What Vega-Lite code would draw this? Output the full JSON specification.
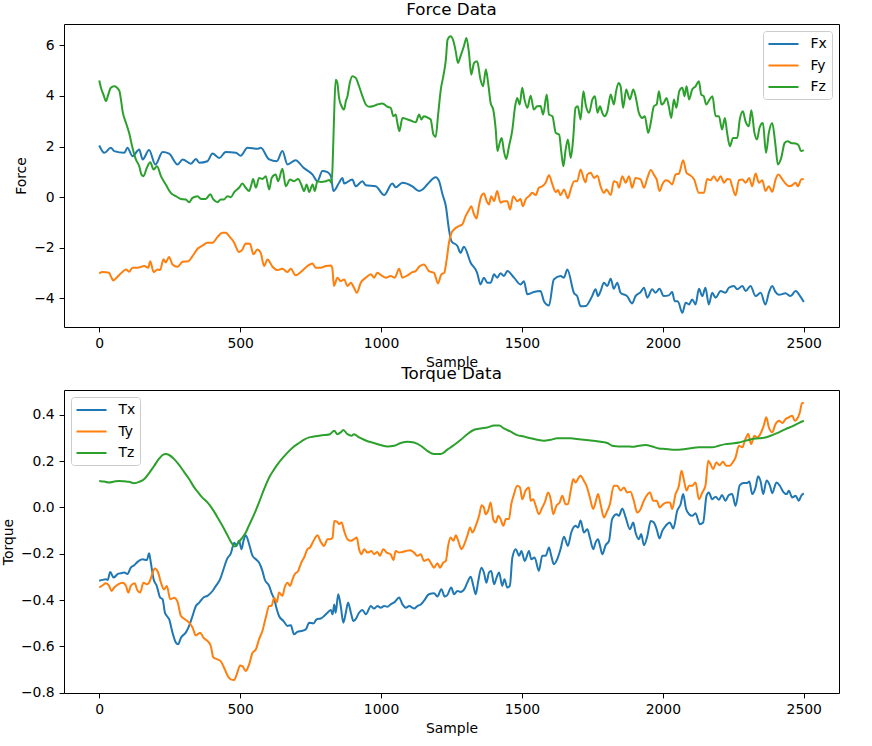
{
  "$schema": "https://vega.github.io/schema/vega-lite/v6.json",
  "padding": {"left": 0, "top": 1, "right": 20, "bottom": 5},
  "spacing": -5,
  "config": {
    "font": "DejaVu Sans",
    "view": {"stroke": "black", "strokeWidth": 1},
    "axis": {
      "domain": false, "grid": false,
      "tickColor": "black", "tickSize": 4.9, "labelPadding": 4.9,
      "labelFontSize": 13.9, "labelColor": "black",
      "titleFontSize": 13.9, "titleFontWeight": "normal", "titleColor": "black"
    },
    "title": {"fontSize": 16.7, "fontWeight": "normal", "color": "black", "anchor": "middle", "baseline": "alphabetic"},
    "legend": {
      "symbolType": "M-1,0H3", "symbolSize": 225, "symbolStrokeWidth": 2,
      "labelFontSize": 13.9, "labelColor": "black", "labelOffset": 26,
      "padding": 4.5, "rowPadding": 5.5,
      "fillColor": "rgba(255,255,255,0.8)", "strokeColor": "#cccccc", "cornerRadius": 3
    }
  },
  "datasets": {
    "force": [
      {"channel":"Fx","sample":0,"value":2.04},{"channel":"Fx","sample":18,"value":1.75},{"channel":"Fx","sample":41,"value":1.95},{"channel":"Fx","sample":53,"value":1.82},{"channel":"Fx","sample":89,"value":1.75},{"channel":"Fx","sample":100,"value":1.95},{"channel":"Fx","sample":118,"value":1.62},{"channel":"Fx","sample":142,"value":1.88},{"channel":"Fx","sample":154,"value":1.49},{"channel":"Fx","sample":177,"value":1.86},{"channel":"Fx","sample":199,"value":1.29},{"channel":"Fx","sample":225,"value":1.78},{"channel":"Fx","sample":248,"value":1.72},{"channel":"Fx","sample":278,"value":1.29},{"channel":"Fx","sample":296,"value":1.49},{"channel":"Fx","sample":325,"value":1.32},{"channel":"Fx","sample":343,"value":1.51},{"channel":"Fx","sample":355,"value":1.36},{"channel":"Fx","sample":384,"value":1.42},{"channel":"Fx","sample":402,"value":1.72},{"channel":"Fx","sample":426,"value":1.55},{"channel":"Fx","sample":449,"value":1.78},{"channel":"Fx","sample":485,"value":1.75},{"channel":"Fx","sample":502,"value":1.64},{"channel":"Fx","sample":526,"value":1.95},{"channel":"Fx","sample":561,"value":1.91},{"channel":"Fx","sample":573,"value":1.95},{"channel":"Fx","sample":603,"value":1.49},{"channel":"Fx","sample":630,"value":1.42},{"channel":"Fx","sample":650,"value":1.82},{"channel":"Fx","sample":668,"value":1.29},{"channel":"Fx","sample":697,"value":1.46},{"channel":"Fx","sample":725,"value":1.16},{"channel":"Fx","sample":757,"value":0.89},{"channel":"Fx","sample":774,"value":0.63},{"channel":"Fx","sample":792,"value":1.03},{"channel":"Fx","sample":810,"value":0.99},{"channel":"Fx","sample":822,"value":0.83},{"channel":"Fx","sample":831,"value":0.24},{"channel":"Fx","sample":851,"value":0.57},{"channel":"Fx","sample":863,"value":0.76},{"channel":"Fx","sample":869,"value":0.54},{"channel":"Fx","sample":898,"value":0.70},{"channel":"Fx","sample":910,"value":0.43},{"channel":"Fx","sample":934,"value":0.63},{"channel":"Fx","sample":946,"value":0.47},{"channel":"Fx","sample":981,"value":0.43},{"channel":"Fx","sample":1011,"value":0.08},{"channel":"Fx","sample":1040,"value":0.54},{"channel":"Fx","sample":1052,"value":0.39},{"channel":"Fx","sample":1076,"value":0.57},{"channel":"Fx","sample":1111,"value":0.43},{"channel":"Fx","sample":1135,"value":0.24},{"channel":"Fx","sample":1147,"value":0.30},{"channel":"Fx","sample":1164,"value":0.50},{"channel":"Fx","sample":1194,"value":0.79},{"channel":"Fx","sample":1206,"value":0.63},{"channel":"Fx","sample":1218,"value":0.11},{"channel":"Fx","sample":1230,"value":-0.36},{"channel":"Fx","sample":1241,"value":-1.28},{"channel":"Fx","sample":1250,"value":-1.74},{"channel":"Fx","sample":1271,"value":-1.93},{"channel":"Fx","sample":1282,"value":-2.20},{"channel":"Fx","sample":1294,"value":-1.96},{"channel":"Fx","sample":1318,"value":-2.59},{"channel":"Fx","sample":1341,"value":-2.99},{"channel":"Fx","sample":1353,"value":-3.45},{"channel":"Fx","sample":1365,"value":-3.18},{"channel":"Fx","sample":1377,"value":-3.38},{"channel":"Fx","sample":1389,"value":-3.38},{"channel":"Fx","sample":1401,"value":-3.05},{"channel":"Fx","sample":1412,"value":-3.18},{"channel":"Fx","sample":1424,"value":-3.01},{"channel":"Fx","sample":1436,"value":-3.12},{"channel":"Fx","sample":1448,"value":-2.92},{"channel":"Fx","sample":1472,"value":-3.18},{"channel":"Fx","sample":1495,"value":-3.45},{"channel":"Fx","sample":1507,"value":-3.32},{"channel":"Fx","sample":1519,"value":-3.84},{"channel":"Fx","sample":1542,"value":-3.75},{"channel":"Fx","sample":1566,"value":-3.71},{"channel":"Fx","sample":1578,"value":-4.11},{"channel":"Fx","sample":1596,"value":-4.28},{"channel":"Fx","sample":1613,"value":-3.25},{"channel":"Fx","sample":1637,"value":-3.12},{"channel":"Fx","sample":1649,"value":-3.18},{"channel":"Fx","sample":1661,"value":-2.86},{"channel":"Fx","sample":1685,"value":-3.80},{"channel":"Fx","sample":1696,"value":-3.91},{"channel":"Fx","sample":1708,"value":-4.31},{"channel":"Fx","sample":1726,"value":-4.30},{"channel":"Fx","sample":1749,"value":-3.91},{"channel":"Fx","sample":1761,"value":-3.64},{"channel":"Fx","sample":1770,"value":-3.91},{"channel":"Fx","sample":1779,"value":-3.71},{"channel":"Fx","sample":1791,"value":-3.38},{"channel":"Fx","sample":1803,"value":-3.51},{"channel":"Fx","sample":1815,"value":-3.22},{"channel":"Fx","sample":1826,"value":-3.62},{"channel":"Fx","sample":1838,"value":-3.38},{"channel":"Fx","sample":1850,"value":-3.78},{"channel":"Fx","sample":1873,"value":-3.91},{"channel":"Fx","sample":1891,"value":-4.20},{"channel":"Fx","sample":1903,"value":-3.91},{"channel":"Fx","sample":1921,"value":-3.75},{"channel":"Fx","sample":1933,"value":-3.58},{"channel":"Fx","sample":1945,"value":-3.97},{"channel":"Fx","sample":1962,"value":-3.64},{"channel":"Fx","sample":1974,"value":-3.78},{"channel":"Fx","sample":1988,"value":-3.62},{"channel":"Fx","sample":2003,"value":-3.91},{"channel":"Fx","sample":2021,"value":-3.88},{"channel":"Fx","sample":2033,"value":-3.75},{"channel":"Fx","sample":2042,"value":-4.11},{"channel":"Fx","sample":2053,"value":-4.11},{"channel":"Fx","sample":2069,"value":-4.57},{"channel":"Fx","sample":2081,"value":-4.17},{"channel":"Fx","sample":2093,"value":-4.24},{"channel":"Fx","sample":2104,"value":-4.04},{"channel":"Fx","sample":2116,"value":-4.24},{"channel":"Fx","sample":2128,"value":-3.62},{"channel":"Fx","sample":2140,"value":-3.91},{"channel":"Fx","sample":2151,"value":-3.58},{"channel":"Fx","sample":2163,"value":-4.24},{"channel":"Fx","sample":2175,"value":-3.78},{"channel":"Fx","sample":2187,"value":-3.97},{"channel":"Fx","sample":2205,"value":-3.71},{"channel":"Fx","sample":2222,"value":-3.78},{"channel":"Fx","sample":2234,"value":-3.58},{"channel":"Fx","sample":2252,"value":-3.51},{"channel":"Fx","sample":2264,"value":-3.64},{"channel":"Fx","sample":2282,"value":-3.51},{"channel":"Fx","sample":2294,"value":-3.71},{"channel":"Fx","sample":2311,"value":-3.51},{"channel":"Fx","sample":2329,"value":-3.91},{"channel":"Fx","sample":2347,"value":-3.78},{"channel":"Fx","sample":2364,"value":-4.24},{"channel":"Fx","sample":2376,"value":-3.78},{"channel":"Fx","sample":2388,"value":-3.51},{"channel":"Fx","sample":2400,"value":-3.75},{"channel":"Fx","sample":2412,"value":-3.86},{"channel":"Fx","sample":2435,"value":-3.80},{"channel":"Fx","sample":2453,"value":-3.91},{"channel":"Fx","sample":2471,"value":-3.71},{"channel":"Fx","sample":2487,"value":-3.91},{"channel":"Fx","sample":2500,"value":-4.14},
      {"channel":"Fy","sample":0,"value":-3.01},{"channel":"Fy","sample":12,"value":-2.96},{"channel":"Fy","sample":35,"value":-2.99},{"channel":"Fy","sample":41,"value":-3.12},{"channel":"Fy","sample":50,"value":-3.29},{"channel":"Fy","sample":62,"value":-3.18},{"channel":"Fy","sample":77,"value":-3.01},{"channel":"Fy","sample":95,"value":-2.86},{"channel":"Fy","sample":106,"value":-2.95},{"channel":"Fy","sample":118,"value":-2.79},{"channel":"Fy","sample":136,"value":-2.79},{"channel":"Fy","sample":160,"value":-2.72},{"channel":"Fy","sample":174,"value":-2.79},{"channel":"Fy","sample":181,"value":-2.53},{"channel":"Fy","sample":193,"value":-2.96},{"channel":"Fy","sample":207,"value":-2.86},{"channel":"Fy","sample":216,"value":-2.88},{"channel":"Fy","sample":228,"value":-2.45},{"channel":"Fy","sample":236,"value":-2.58},{"channel":"Fy","sample":248,"value":-2.36},{"channel":"Fy","sample":260,"value":-2.66},{"channel":"Fy","sample":278,"value":-2.75},{"channel":"Fy","sample":296,"value":-2.55},{"channel":"Fy","sample":316,"value":-2.53},{"channel":"Fy","sample":331,"value":-2.33},{"channel":"Fy","sample":349,"value":-2.04},{"channel":"Fy","sample":367,"value":-1.91},{"channel":"Fy","sample":384,"value":-1.80},{"channel":"Fy","sample":402,"value":-1.80},{"channel":"Fy","sample":420,"value":-1.57},{"channel":"Fy","sample":437,"value":-1.41},{"channel":"Fy","sample":449,"value":-1.41},{"channel":"Fy","sample":461,"value":-1.54},{"channel":"Fy","sample":478,"value":-1.78},{"channel":"Fy","sample":496,"value":-2.17},{"channel":"Fy","sample":508,"value":-2.07},{"channel":"Fy","sample":520,"value":-1.83},{"channel":"Fy","sample":535,"value":-1.84},{"channel":"Fy","sample":547,"value":-2.26},{"channel":"Fy","sample":561,"value":-2.07},{"channel":"Fy","sample":573,"value":-2.20},{"channel":"Fy","sample":585,"value":-2.72},{"channel":"Fy","sample":597,"value":-2.46},{"channel":"Fy","sample":615,"value":-2.75},{"channel":"Fy","sample":632,"value":-2.88},{"channel":"Fy","sample":650,"value":-2.83},{"channel":"Fy","sample":668,"value":-2.96},{"channel":"Fy","sample":680,"value":-2.83},{"channel":"Fy","sample":697,"value":-3.09},{"channel":"Fy","sample":715,"value":-2.96},{"channel":"Fy","sample":739,"value":-2.72},{"channel":"Fy","sample":757,"value":-2.62},{"channel":"Fy","sample":768,"value":-2.79},{"channel":"Fy","sample":786,"value":-2.79},{"channel":"Fy","sample":804,"value":-2.72},{"channel":"Fy","sample":822,"value":-2.70},{"channel":"Fy","sample":827,"value":-2.80},{"channel":"Fy","sample":833,"value":-3.51},{"channel":"Fy","sample":845,"value":-3.18},{"channel":"Fy","sample":857,"value":-3.32},{"channel":"Fy","sample":869,"value":-3.25},{"channel":"Fy","sample":881,"value":-3.51},{"channel":"Fy","sample":893,"value":-3.38},{"channel":"Fy","sample":904,"value":-3.58},{"channel":"Fy","sample":914,"value":-3.78},{"channel":"Fy","sample":928,"value":-3.38},{"channel":"Fy","sample":946,"value":-3.18},{"channel":"Fy","sample":964,"value":-3.05},{"channel":"Fy","sample":975,"value":-3.18},{"channel":"Fy","sample":987,"value":-2.99},{"channel":"Fy","sample":1005,"value":-3.12},{"channel":"Fy","sample":1017,"value":-3.18},{"channel":"Fy","sample":1034,"value":-3.12},{"channel":"Fy","sample":1049,"value":-3.18},{"channel":"Fy","sample":1064,"value":-2.83},{"channel":"Fy","sample":1076,"value":-3.18},{"channel":"Fy","sample":1094,"value":-3.09},{"channel":"Fy","sample":1111,"value":-2.96},{"channel":"Fy","sample":1123,"value":-2.92},{"channel":"Fy","sample":1135,"value":-2.75},{"channel":"Fy","sample":1152,"value":-2.66},{"channel":"Fy","sample":1170,"value":-2.92},{"channel":"Fy","sample":1188,"value":-2.99},{"channel":"Fy","sample":1202,"value":-3.41},{"channel":"Fy","sample":1214,"value":-3.05},{"channel":"Fy","sample":1224,"value":-2.99},{"channel":"Fy","sample":1233,"value":-2.46},{"channel":"Fy","sample":1241,"value":-1.80},{"channel":"Fy","sample":1250,"value":-1.41},{"channel":"Fy","sample":1259,"value":-1.28},{"channel":"Fy","sample":1277,"value":-1.14},{"channel":"Fy","sample":1288,"value":-1.08},{"channel":"Fy","sample":1300,"value":-0.75},{"channel":"Fy","sample":1312,"value":-0.51},{"channel":"Fy","sample":1320,"value":-0.36},{"channel":"Fy","sample":1330,"value":-0.68},{"channel":"Fy","sample":1339,"value":-0.84},{"channel":"Fy","sample":1347,"value":-0.36},{"channel":"Fy","sample":1357,"value":0.07},{"channel":"Fy","sample":1365,"value":0.14},{"channel":"Fy","sample":1375,"value":-0.16},{"channel":"Fy","sample":1383,"value":-0.29},{"channel":"Fy","sample":1391,"value":0.04},{"channel":"Fy","sample":1401,"value":-0.16},{"channel":"Fy","sample":1412,"value":0.24},{"channel":"Fy","sample":1424,"value":-0.22},{"channel":"Fy","sample":1436,"value":-0.16},{"channel":"Fy","sample":1448,"value":-0.16},{"channel":"Fy","sample":1458,"value":-0.49},{"channel":"Fy","sample":1469,"value":0.04},{"channel":"Fy","sample":1484,"value":-0.16},{"channel":"Fy","sample":1495,"value":-0.07},{"channel":"Fy","sample":1503,"value":-0.36},{"channel":"Fy","sample":1513,"value":-0.09},{"channel":"Fy","sample":1525,"value":0.04},{"channel":"Fy","sample":1537,"value":0.17},{"channel":"Fy","sample":1549,"value":0.08},{"channel":"Fy","sample":1560,"value":0.37},{"channel":"Fy","sample":1572,"value":0.43},{"channel":"Fy","sample":1584,"value":0.57},{"channel":"Fy","sample":1596,"value":0.86},{"channel":"Fy","sample":1608,"value":0.50},{"channel":"Fy","sample":1620,"value":0.20},{"channel":"Fy","sample":1628,"value":0.28},{"channel":"Fy","sample":1637,"value":0.07},{"channel":"Fy","sample":1649,"value":0.30},{"channel":"Fy","sample":1663,"value":-0.04},{"channel":"Fy","sample":1673,"value":0.30},{"channel":"Fy","sample":1685,"value":0.63},{"channel":"Fy","sample":1696,"value":0.63},{"channel":"Fy","sample":1708,"value":1.09},{"channel":"Fy","sample":1720,"value":0.70},{"channel":"Fy","sample":1726,"value":0.59},{"channel":"Fy","sample":1732,"value":0.89},{"channel":"Fy","sample":1744,"value":0.96},{"channel":"Fy","sample":1756,"value":0.76},{"channel":"Fy","sample":1768,"value":0.85},{"channel":"Fy","sample":1779,"value":0.43},{"channel":"Fy","sample":1791,"value":0.17},{"channel":"Fy","sample":1800,"value":0.30},{"channel":"Fy","sample":1815,"value":0.08},{"channel":"Fy","sample":1826,"value":0.63},{"channel":"Fy","sample":1838,"value":0.57},{"channel":"Fy","sample":1844,"value":0.37},{"channel":"Fy","sample":1856,"value":0.83},{"channel":"Fy","sample":1868,"value":0.57},{"channel":"Fy","sample":1880,"value":0.83},{"channel":"Fy","sample":1891,"value":0.37},{"channel":"Fy","sample":1903,"value":0.76},{"channel":"Fy","sample":1921,"value":0.70},{"channel":"Fy","sample":1933,"value":0.37},{"channel":"Fy","sample":1945,"value":0.76},{"channel":"Fy","sample":1957,"value":1.07},{"channel":"Fy","sample":1968,"value":0.89},{"channel":"Fy","sample":1978,"value":0.70},{"channel":"Fy","sample":1988,"value":0.24},{"channel":"Fy","sample":1998,"value":0.50},{"channel":"Fy","sample":2010,"value":0.67},{"channel":"Fy","sample":2021,"value":0.63},{"channel":"Fy","sample":2033,"value":0.50},{"channel":"Fy","sample":2045,"value":0.89},{"channel":"Fy","sample":2057,"value":0.93},{"channel":"Fy","sample":2072,"value":1.46},{"channel":"Fy","sample":2084,"value":0.96},{"channel":"Fy","sample":2093,"value":0.89},{"channel":"Fy","sample":2111,"value":0.70},{"channel":"Fy","sample":2128,"value":0.17},{"channel":"Fy","sample":2146,"value":0.17},{"channel":"Fy","sample":2157,"value":0.72},{"channel":"Fy","sample":2169,"value":0.67},{"channel":"Fy","sample":2181,"value":0.83},{"channel":"Fy","sample":2193,"value":0.63},{"channel":"Fy","sample":2205,"value":0.83},{"channel":"Fy","sample":2217,"value":0.57},{"channel":"Fy","sample":2229,"value":0.72},{"channel":"Fy","sample":2238,"value":0.70},{"channel":"Fy","sample":2246,"value":0.43},{"channel":"Fy","sample":2258,"value":0.07},{"channel":"Fy","sample":2270,"value":0.67},{"channel":"Fy","sample":2282,"value":0.70},{"channel":"Fy","sample":2294,"value":0.57},{"channel":"Fy","sample":2306,"value":0.76},{"channel":"Fy","sample":2317,"value":0.43},{"channel":"Fy","sample":2329,"value":0.93},{"channel":"Fy","sample":2341,"value":0.57},{"channel":"Fy","sample":2353,"value":0.67},{"channel":"Fy","sample":2364,"value":0.24},{"channel":"Fy","sample":2376,"value":0.43},{"channel":"Fy","sample":2388,"value":0.21},{"channel":"Fy","sample":2400,"value":0.70},{"channel":"Fy","sample":2410,"value":0.89},{"channel":"Fy","sample":2424,"value":0.70},{"channel":"Fy","sample":2435,"value":0.54},{"channel":"Fy","sample":2447,"value":0.43},{"channel":"Fy","sample":2459,"value":0.47},{"channel":"Fy","sample":2471,"value":0.57},{"channel":"Fy","sample":2479,"value":0.43},{"channel":"Fy","sample":2491,"value":0.70},{"channel":"Fy","sample":2500,"value":0.72},
      {"channel":"Fz","sample":0,"value":4.61},{"channel":"Fz","sample":8,"value":4.25},{"channel":"Fz","sample":15,"value":4.05},{"channel":"Fz","sample":24,"value":3.79},{"channel":"Fz","sample":32,"value":4.05},{"channel":"Fz","sample":41,"value":4.32},{"channel":"Fz","sample":53,"value":4.38},{"channel":"Fz","sample":71,"value":4.21},{"channel":"Fz","sample":77,"value":3.86},{"channel":"Fz","sample":83,"value":3.39},{"channel":"Fz","sample":95,"value":2.93},{"channel":"Fz","sample":106,"value":2.54},{"channel":"Fz","sample":118,"value":1.95},{"channel":"Fz","sample":130,"value":1.49},{"channel":"Fz","sample":142,"value":1.22},{"channel":"Fz","sample":150,"value":0.89},{"channel":"Fz","sample":157,"value":0.83},{"channel":"Fz","sample":169,"value":1.16},{"channel":"Fz","sample":181,"value":1.38},{"channel":"Fz","sample":193,"value":1.09},{"channel":"Fz","sample":205,"value":1.22},{"channel":"Fz","sample":219,"value":0.83},{"channel":"Fz","sample":236,"value":0.50},{"channel":"Fz","sample":254,"value":0.17},{"channel":"Fz","sample":272,"value":0.04},{"channel":"Fz","sample":290,"value":-0.07},{"channel":"Fz","sample":307,"value":-0.09},{"channel":"Fz","sample":319,"value":-0.20},{"channel":"Fz","sample":331,"value":-0.03},{"channel":"Fz","sample":349,"value":0.04},{"channel":"Fz","sample":361,"value":-0.07},{"channel":"Fz","sample":378,"value":-0.07},{"channel":"Fz","sample":394,"value":0.11},{"channel":"Fz","sample":405,"value":-0.09},{"channel":"Fz","sample":420,"value":-0.20},{"channel":"Fz","sample":431,"value":-0.09},{"channel":"Fz","sample":443,"value":-0.09},{"channel":"Fz","sample":455,"value":0.04},{"channel":"Fz","sample":467,"value":0.00},{"channel":"Fz","sample":479,"value":0.20},{"channel":"Fz","sample":496,"value":0.37},{"channel":"Fz","sample":508,"value":0.54},{"channel":"Fz","sample":520,"value":0.37},{"channel":"Fz","sample":532,"value":0.24},{"channel":"Fz","sample":540,"value":0.50},{"channel":"Fz","sample":546,"value":0.72},{"channel":"Fz","sample":556,"value":0.37},{"channel":"Fz","sample":567,"value":0.76},{"channel":"Fz","sample":579,"value":0.72},{"channel":"Fz","sample":591,"value":0.83},{"channel":"Fz","sample":603,"value":0.30},{"channel":"Fz","sample":612,"value":0.76},{"channel":"Fz","sample":626,"value":0.89},{"channel":"Fz","sample":635,"value":0.63},{"channel":"Fz","sample":650,"value":1.12},{"channel":"Fz","sample":662,"value":0.43},{"channel":"Fz","sample":677,"value":0.70},{"channel":"Fz","sample":691,"value":0.63},{"channel":"Fz","sample":706,"value":0.72},{"channel":"Fz","sample":717,"value":0.50},{"channel":"Fz","sample":727,"value":0.24},{"channel":"Fz","sample":736,"value":0.50},{"channel":"Fz","sample":745,"value":0.20},{"channel":"Fz","sample":757,"value":0.50},{"channel":"Fz","sample":765,"value":0.24},{"channel":"Fz","sample":774,"value":0.63},{"channel":"Fz","sample":786,"value":0.60},{"channel":"Fz","sample":804,"value":0.63},{"channel":"Fz","sample":816,"value":0.68},{"channel":"Fz","sample":824,"value":0.57},{"channel":"Fz","sample":828,"value":1.22},{"channel":"Fz","sample":833,"value":3.07},{"channel":"Fz","sample":839,"value":4.64},{"channel":"Fz","sample":845,"value":4.51},{"channel":"Fz","sample":851,"value":3.92},{"channel":"Fz","sample":860,"value":3.59},{"channel":"Fz","sample":869,"value":3.46},{"channel":"Fz","sample":875,"value":3.79},{"channel":"Fz","sample":881,"value":3.99},{"channel":"Fz","sample":889,"value":4.51},{"channel":"Fz","sample":898,"value":4.78},{"channel":"Fz","sample":910,"value":4.71},{"channel":"Fz","sample":922,"value":4.38},{"channel":"Fz","sample":934,"value":3.99},{"channel":"Fz","sample":946,"value":3.66},{"channel":"Fz","sample":958,"value":3.57},{"channel":"Fz","sample":970,"value":3.59},{"channel":"Fz","sample":987,"value":3.66},{"channel":"Fz","sample":1005,"value":3.70},{"channel":"Fz","sample":1023,"value":3.57},{"channel":"Fz","sample":1034,"value":3.53},{"channel":"Fz","sample":1044,"value":3.20},{"channel":"Fz","sample":1052,"value":3.26},{"channel":"Fz","sample":1058,"value":2.93},{"channel":"Fz","sample":1065,"value":2.61},{"channel":"Fz","sample":1076,"value":3.13},{"channel":"Fz","sample":1094,"value":3.07},{"channel":"Fz","sample":1111,"value":3.00},{"channel":"Fz","sample":1123,"value":2.96},{"channel":"Fz","sample":1135,"value":3.26},{"channel":"Fz","sample":1143,"value":3.07},{"channel":"Fz","sample":1152,"value":3.20},{"channel":"Fz","sample":1167,"value":3.13},{"channel":"Fz","sample":1176,"value":3.07},{"channel":"Fz","sample":1186,"value":2.47},{"channel":"Fz","sample":1194,"value":2.38},{"channel":"Fz","sample":1202,"value":3.20},{"channel":"Fz","sample":1212,"value":4.25},{"channel":"Fz","sample":1221,"value":4.78},{"channel":"Fz","sample":1230,"value":5.43},{"channel":"Fz","sample":1236,"value":6.22},{"channel":"Fz","sample":1247,"value":6.36},{"channel":"Fz","sample":1257,"value":6.16},{"channel":"Fz","sample":1265,"value":5.76},{"channel":"Fz","sample":1273,"value":5.30},{"channel":"Fz","sample":1282,"value":5.57},{"channel":"Fz","sample":1294,"value":5.96},{"channel":"Fz","sample":1303,"value":6.29},{"channel":"Fz","sample":1312,"value":5.70},{"channel":"Fz","sample":1320,"value":4.84},{"channel":"Fz","sample":1330,"value":5.30},{"channel":"Fz","sample":1341,"value":5.37},{"channel":"Fz","sample":1353,"value":4.64},{"channel":"Fz","sample":1362,"value":4.38},{"channel":"Fz","sample":1372,"value":5.04},{"channel":"Fz","sample":1380,"value":4.51},{"channel":"Fz","sample":1389,"value":3.72},{"channel":"Fz","sample":1398,"value":3.46},{"channel":"Fz","sample":1407,"value":2.67},{"channel":"Fz","sample":1413,"value":1.82},{"channel":"Fz","sample":1421,"value":2.14},{"channel":"Fz","sample":1428,"value":2.34},{"channel":"Fz","sample":1436,"value":1.82},{"channel":"Fz","sample":1444,"value":1.51},{"channel":"Fz","sample":1454,"value":2.01},{"channel":"Fz","sample":1466,"value":2.67},{"channel":"Fz","sample":1475,"value":3.53},{"channel":"Fz","sample":1483,"value":3.92},{"channel":"Fz","sample":1492,"value":3.66},{"channel":"Fz","sample":1501,"value":4.32},{"channel":"Fz","sample":1509,"value":3.86},{"channel":"Fz","sample":1519,"value":3.53},{"channel":"Fz","sample":1531,"value":4.01},{"channel":"Fz","sample":1542,"value":3.46},{"channel":"Fz","sample":1554,"value":3.59},{"channel":"Fz","sample":1566,"value":3.60},{"channel":"Fz","sample":1575,"value":3.26},{"channel":"Fz","sample":1588,"value":4.05},{"channel":"Fz","sample":1596,"value":3.26},{"channel":"Fz","sample":1608,"value":3.20},{"channel":"Fz","sample":1620,"value":2.54},{"channel":"Fz","sample":1632,"value":2.47},{"channel":"Fz","sample":1640,"value":1.75},{"channel":"Fz","sample":1647,"value":1.22},{"channel":"Fz","sample":1655,"value":1.88},{"channel":"Fz","sample":1663,"value":2.28},{"channel":"Fz","sample":1673,"value":1.55},{"channel":"Fz","sample":1682,"value":2.34},{"channel":"Fz","sample":1690,"value":3.53},{"channel":"Fz","sample":1698,"value":3.59},{"channel":"Fz","sample":1708,"value":3.07},{"channel":"Fz","sample":1718,"value":4.18},{"channel":"Fz","sample":1726,"value":3.66},{"channel":"Fz","sample":1738,"value":3.33},{"channel":"Fz","sample":1750,"value":3.86},{"channel":"Fz","sample":1759,"value":3.99},{"channel":"Fz","sample":1768,"value":3.33},{"channel":"Fz","sample":1777,"value":3.59},{"channel":"Fz","sample":1785,"value":3.33},{"channel":"Fz","sample":1793,"value":3.20},{"channel":"Fz","sample":1803,"value":3.39},{"channel":"Fz","sample":1815,"value":4.05},{"channel":"Fz","sample":1826,"value":3.66},{"channel":"Fz","sample":1834,"value":4.18},{"channel":"Fz","sample":1843,"value":4.51},{"channel":"Fz","sample":1850,"value":4.38},{"channel":"Fz","sample":1859,"value":3.53},{"channel":"Fz","sample":1870,"value":4.25},{"channel":"Fz","sample":1883,"value":3.86},{"channel":"Fz","sample":1895,"value":4.25},{"channel":"Fz","sample":1903,"value":3.99},{"channel":"Fz","sample":1915,"value":3.33},{"channel":"Fz","sample":1927,"value":3.13},{"channel":"Fz","sample":1936,"value":3.20},{"channel":"Fz","sample":1948,"value":2.54},{"channel":"Fz","sample":1957,"value":2.93},{"channel":"Fz","sample":1968,"value":3.59},{"channel":"Fz","sample":1978,"value":3.66},{"channel":"Fz","sample":1986,"value":4.18},{"channel":"Fz","sample":1995,"value":3.66},{"channel":"Fz","sample":2003,"value":3.72},{"channel":"Fz","sample":2013,"value":3.92},{"channel":"Fz","sample":2021,"value":3.59},{"channel":"Fz","sample":2030,"value":3.13},{"channel":"Fz","sample":2039,"value":3.86},{"channel":"Fz","sample":2048,"value":3.53},{"channel":"Fz","sample":2058,"value":4.18},{"channel":"Fz","sample":2069,"value":4.32},{"channel":"Fz","sample":2077,"value":3.99},{"channel":"Fz","sample":2084,"value":4.38},{"channel":"Fz","sample":2093,"value":3.86},{"channel":"Fz","sample":2104,"value":4.25},{"channel":"Fz","sample":2116,"value":4.38},{"channel":"Fz","sample":2128,"value":4.58},{"channel":"Fz","sample":2136,"value":4.05},{"channel":"Fz","sample":2145,"value":3.99},{"channel":"Fz","sample":2154,"value":3.66},{"channel":"Fz","sample":2166,"value":3.86},{"channel":"Fz","sample":2176,"value":3.99},{"channel":"Fz","sample":2187,"value":3.20},{"channel":"Fz","sample":2199,"value":3.20},{"channel":"Fz","sample":2210,"value":2.67},{"channel":"Fz","sample":2220,"value":3.13},{"channel":"Fz","sample":2228,"value":2.54},{"channel":"Fz","sample":2238,"value":2.01},{"channel":"Fz","sample":2249,"value":2.34},{"channel":"Fz","sample":2264,"value":2.34},{"channel":"Fz","sample":2273,"value":3.07},{"channel":"Fz","sample":2284,"value":3.39},{"channel":"Fz","sample":2293,"value":3.00},{"channel":"Fz","sample":2305,"value":2.80},{"channel":"Fz","sample":2314,"value":3.43},{"channel":"Fz","sample":2325,"value":2.54},{"channel":"Fz","sample":2334,"value":2.28},{"channel":"Fz","sample":2343,"value":2.74},{"channel":"Fz","sample":2355,"value":2.93},{"channel":"Fz","sample":2366,"value":1.75},{"channel":"Fz","sample":2376,"value":2.54},{"channel":"Fz","sample":2388,"value":2.93},{"channel":"Fz","sample":2400,"value":2.01},{"channel":"Fz","sample":2408,"value":1.29},{"channel":"Fz","sample":2420,"value":1.55},{"channel":"Fz","sample":2432,"value":2.14},{"channel":"Fz","sample":2443,"value":2.21},{"channel":"Fz","sample":2455,"value":2.14},{"channel":"Fz","sample":2471,"value":2.12},{"channel":"Fz","sample":2482,"value":2.04},{"channel":"Fz","sample":2490,"value":1.82},{"channel":"Fz","sample":2500,"value":1.86}
    ],
    "torque": [
      {"channel":"Tx","sample":0,"value":-0.317},{"channel":"Tx","sample":12,"value":-0.313},{"channel":"Tx","sample":24,"value":-0.31},{"channel":"Tx","sample":30,"value":-0.313},{"channel":"Tx","sample":39,"value":-0.279},{"channel":"Tx","sample":51,"value":-0.303},{"channel":"Tx","sample":65,"value":-0.288},{"channel":"Tx","sample":77,"value":-0.284},{"channel":"Tx","sample":89,"value":-0.281},{"channel":"Tx","sample":100,"value":-0.288},{"channel":"Tx","sample":112,"value":-0.26},{"channel":"Tx","sample":124,"value":-0.25},{"channel":"Tx","sample":136,"value":-0.235},{"channel":"Tx","sample":154,"value":-0.224},{"channel":"Tx","sample":169,"value":-0.227},{"channel":"Tx","sample":177,"value":-0.198},{"channel":"Tx","sample":183,"value":-0.238},{"channel":"Tx","sample":193,"value":-0.31},{"channel":"Tx","sample":204,"value":-0.339},{"channel":"Tx","sample":216,"value":-0.389},{"channel":"Tx","sample":225,"value":-0.397},{"channel":"Tx","sample":233,"value":-0.454},{"channel":"Tx","sample":240,"value":-0.469},{"channel":"Tx","sample":248,"value":-0.483},{"channel":"Tx","sample":260,"value":-0.541},{"channel":"Tx","sample":272,"value":-0.584},{"channel":"Tx","sample":280,"value":-0.591},{"channel":"Tx","sample":290,"value":-0.563},{"channel":"Tx","sample":307,"value":-0.541},{"channel":"Tx","sample":319,"value":-0.512},{"channel":"Tx","sample":331,"value":-0.469},{"channel":"Tx","sample":343,"value":-0.426},{"channel":"Tx","sample":355,"value":-0.411},{"channel":"Tx","sample":370,"value":-0.389},{"channel":"Tx","sample":384,"value":-0.382},{"channel":"Tx","sample":402,"value":-0.361},{"channel":"Tx","sample":414,"value":-0.339},{"channel":"Tx","sample":429,"value":-0.31},{"channel":"Tx","sample":441,"value":-0.267},{"channel":"Tx","sample":453,"value":-0.224},{"channel":"Tx","sample":467,"value":-0.198},{"channel":"Tx","sample":479,"value":-0.152},{"channel":"Tx","sample":487,"value":-0.166},{"channel":"Tx","sample":496,"value":-0.144},{"channel":"Tx","sample":505,"value":-0.18},{"channel":"Tx","sample":512,"value":-0.144},{"channel":"Tx","sample":520,"value":-0.12},{"channel":"Tx","sample":532,"value":-0.159},{"channel":"Tx","sample":544,"value":-0.209},{"channel":"Tx","sample":556,"value":-0.224},{"channel":"Tx","sample":567,"value":-0.238},{"channel":"Tx","sample":579,"value":-0.274},{"channel":"Tx","sample":587,"value":-0.31},{"channel":"Tx","sample":603,"value":-0.339},{"channel":"Tx","sample":611,"value":-0.368},{"channel":"Tx","sample":621,"value":-0.397},{"channel":"Tx","sample":630,"value":-0.44},{"channel":"Tx","sample":638,"value":-0.469},{"channel":"Tx","sample":654,"value":-0.491},{"channel":"Tx","sample":668,"value":-0.512},{"channel":"Tx","sample":680,"value":-0.509},{"channel":"Tx","sample":691,"value":-0.548},{"channel":"Tx","sample":703,"value":-0.538},{"channel":"Tx","sample":717,"value":-0.534},{"channel":"Tx","sample":733,"value":-0.527},{"channel":"Tx","sample":745,"value":-0.498},{"channel":"Tx","sample":760,"value":-0.501},{"channel":"Tx","sample":772,"value":-0.483},{"channel":"Tx","sample":786,"value":-0.48},{"channel":"Tx","sample":798,"value":-0.469},{"channel":"Tx","sample":810,"value":-0.455},{"channel":"Tx","sample":822,"value":-0.443},{"channel":"Tx","sample":828,"value":-0.462},{"channel":"Tx","sample":834,"value":-0.419},{"channel":"Tx","sample":839,"value":-0.455},{"channel":"Tx","sample":848,"value":-0.375},{"channel":"Tx","sample":857,"value":-0.426},{"channel":"Tx","sample":866,"value":-0.498},{"channel":"Tx","sample":875,"value":-0.455},{"channel":"Tx","sample":883,"value":-0.411},{"channel":"Tx","sample":893,"value":-0.455},{"channel":"Tx","sample":902,"value":-0.491},{"channel":"Tx","sample":910,"value":-0.483},{"channel":"Tx","sample":922,"value":-0.455},{"channel":"Tx","sample":934,"value":-0.443},{"channel":"Tx","sample":946,"value":-0.462},{"channel":"Tx","sample":964,"value":-0.426},{"channel":"Tx","sample":975,"value":-0.437},{"channel":"Tx","sample":987,"value":-0.426},{"channel":"Tx","sample":999,"value":-0.433},{"channel":"Tx","sample":1011,"value":-0.426},{"channel":"Tx","sample":1023,"value":-0.429},{"channel":"Tx","sample":1034,"value":-0.419},{"channel":"Tx","sample":1049,"value":-0.408},{"channel":"Tx","sample":1064,"value":-0.389},{"channel":"Tx","sample":1076,"value":-0.419},{"channel":"Tx","sample":1088,"value":-0.433},{"channel":"Tx","sample":1100,"value":-0.426},{"channel":"Tx","sample":1117,"value":-0.437},{"channel":"Tx","sample":1129,"value":-0.426},{"channel":"Tx","sample":1141,"value":-0.419},{"channel":"Tx","sample":1152,"value":-0.404},{"channel":"Tx","sample":1170,"value":-0.375},{"channel":"Tx","sample":1188,"value":-0.371},{"channel":"Tx","sample":1200,"value":-0.385},{"channel":"Tx","sample":1214,"value":-0.353},{"channel":"Tx","sample":1226,"value":-0.385},{"channel":"Tx","sample":1235,"value":-0.379},{"channel":"Tx","sample":1249,"value":-0.346},{"channel":"Tx","sample":1259,"value":-0.375},{"channel":"Tx","sample":1271,"value":-0.361},{"channel":"Tx","sample":1282,"value":-0.365},{"channel":"Tx","sample":1297,"value":-0.35},{"channel":"Tx","sample":1306,"value":-0.325},{"channel":"Tx","sample":1318,"value":-0.299},{"channel":"Tx","sample":1327,"value":-0.336},{"channel":"Tx","sample":1336,"value":-0.375},{"channel":"Tx","sample":1344,"value":-0.325},{"channel":"Tx","sample":1356,"value":-0.26},{"channel":"Tx","sample":1365,"value":-0.281},{"channel":"Tx","sample":1374,"value":-0.325},{"channel":"Tx","sample":1383,"value":-0.281},{"channel":"Tx","sample":1391,"value":-0.274},{"channel":"Tx","sample":1401,"value":-0.332},{"channel":"Tx","sample":1410,"value":-0.303},{"channel":"Tx","sample":1419,"value":-0.281},{"channel":"Tx","sample":1430,"value":-0.339},{"channel":"Tx","sample":1438,"value":-0.31},{"channel":"Tx","sample":1448,"value":-0.346},{"channel":"Tx","sample":1457,"value":-0.339},{"channel":"Tx","sample":1466,"value":-0.216},{"channel":"Tx","sample":1478,"value":-0.18},{"channel":"Tx","sample":1490,"value":-0.209},{"channel":"Tx","sample":1498,"value":-0.188},{"channel":"Tx","sample":1510,"value":-0.231},{"channel":"Tx","sample":1525,"value":-0.188},{"channel":"Tx","sample":1533,"value":-0.224},{"channel":"Tx","sample":1545,"value":-0.216},{"channel":"Tx","sample":1560,"value":-0.274},{"channel":"Tx","sample":1572,"value":-0.209},{"channel":"Tx","sample":1584,"value":-0.209},{"channel":"Tx","sample":1596,"value":-0.173},{"channel":"Tx","sample":1604,"value":-0.209},{"channel":"Tx","sample":1613,"value":-0.245},{"channel":"Tx","sample":1625,"value":-0.224},{"channel":"Tx","sample":1637,"value":-0.18},{"channel":"Tx","sample":1649,"value":-0.126},{"channel":"Tx","sample":1663,"value":-0.166},{"channel":"Tx","sample":1675,"value":-0.108},{"channel":"Tx","sample":1690,"value":-0.079},{"channel":"Tx","sample":1699,"value":-0.087},{"channel":"Tx","sample":1708,"value":-0.056},{"channel":"Tx","sample":1720,"value":-0.108},{"channel":"Tx","sample":1732,"value":-0.094},{"channel":"Tx","sample":1741,"value":-0.13},{"channel":"Tx","sample":1753,"value":-0.18},{"channel":"Tx","sample":1761,"value":-0.152},{"channel":"Tx","sample":1770,"value":-0.137},{"channel":"Tx","sample":1777,"value":-0.166},{"channel":"Tx","sample":1785,"value":-0.202},{"channel":"Tx","sample":1797,"value":-0.163},{"channel":"Tx","sample":1809,"value":-0.144},{"channel":"Tx","sample":1820,"value":-0.05},{"channel":"Tx","sample":1836,"value":-0.029},{"channel":"Tx","sample":1844,"value":-0.036},{"channel":"Tx","sample":1856,"value":-0.004},{"channel":"Tx","sample":1868,"value":-0.043},{"channel":"Tx","sample":1883,"value":-0.094},{"channel":"Tx","sample":1895,"value":-0.065},{"channel":"Tx","sample":1903,"value":-0.108},{"channel":"Tx","sample":1915,"value":-0.137},{"channel":"Tx","sample":1923,"value":-0.115},{"channel":"Tx","sample":1933,"value":-0.163},{"channel":"Tx","sample":1945,"value":-0.123},{"channel":"Tx","sample":1957,"value":-0.058},{"channel":"Tx","sample":1968,"value":-0.065},{"channel":"Tx","sample":1978,"value":-0.094},{"channel":"Tx","sample":1988,"value":-0.134},{"channel":"Tx","sample":1998,"value":-0.101},{"channel":"Tx","sample":2010,"value":-0.079},{"channel":"Tx","sample":2025,"value":-0.065},{"channel":"Tx","sample":2037,"value":-0.091},{"channel":"Tx","sample":2051,"value":-0.014},{"channel":"Tx","sample":2063,"value":0.014},{"channel":"Tx","sample":2072,"value":0.058},{"channel":"Tx","sample":2082,"value":-0.004},{"channel":"Tx","sample":2093,"value":-0.029},{"channel":"Tx","sample":2104,"value":-0.036},{"channel":"Tx","sample":2116,"value":-0.025},{"channel":"Tx","sample":2131,"value":-0.072},{"channel":"Tx","sample":2143,"value":-0.065},{"channel":"Tx","sample":2155,"value":0.051},{"channel":"Tx","sample":2163,"value":0.065},{"channel":"Tx","sample":2175,"value":0.036},{"channel":"Tx","sample":2187,"value":0.047},{"channel":"Tx","sample":2199,"value":0.033},{"channel":"Tx","sample":2210,"value":0.054},{"channel":"Tx","sample":2222,"value":0.029},{"channel":"Tx","sample":2234,"value":0.054},{"channel":"Tx","sample":2246,"value":0.058},{"channel":"Tx","sample":2258,"value":0.007},{"channel":"Tx","sample":2273,"value":0.097},{"channel":"Tx","sample":2287,"value":0.106},{"channel":"Tx","sample":2299,"value":0.106},{"channel":"Tx","sample":2307,"value":0.112},{"channel":"Tx","sample":2317,"value":0.058},{"channel":"Tx","sample":2329,"value":0.087},{"channel":"Tx","sample":2338,"value":0.135},{"channel":"Tx","sample":2347,"value":0.112},{"channel":"Tx","sample":2356,"value":0.058},{"channel":"Tx","sample":2368,"value":0.117},{"channel":"Tx","sample":2380,"value":0.094},{"channel":"Tx","sample":2388,"value":0.062},{"channel":"Tx","sample":2403,"value":0.108},{"channel":"Tx","sample":2415,"value":0.094},{"channel":"Tx","sample":2427,"value":0.068},{"channel":"Tx","sample":2439,"value":0.058},{"channel":"Tx","sample":2447,"value":0.072},{"channel":"Tx","sample":2459,"value":0.043},{"channel":"Tx","sample":2471,"value":0.051},{"channel":"Tx","sample":2482,"value":0.029},{"channel":"Tx","sample":2491,"value":0.051},{"channel":"Tx","sample":2500,"value":0.061},
      {"channel":"Ty","sample":0,"value":-0.346},{"channel":"Ty","sample":12,"value":-0.336},{"channel":"Ty","sample":24,"value":-0.327},{"channel":"Ty","sample":35,"value":-0.339},{"channel":"Ty","sample":44,"value":-0.361},{"channel":"Ty","sample":53,"value":-0.346},{"channel":"Ty","sample":67,"value":-0.332},{"channel":"Ty","sample":83,"value":-0.325},{"channel":"Ty","sample":95,"value":-0.339},{"channel":"Ty","sample":103,"value":-0.368},{"channel":"Ty","sample":112,"value":-0.339},{"channel":"Ty","sample":126,"value":-0.328},{"channel":"Ty","sample":134,"value":-0.354},{"channel":"Ty","sample":145,"value":-0.368},{"channel":"Ty","sample":157,"value":-0.325},{"channel":"Ty","sample":169,"value":-0.332},{"channel":"Ty","sample":177,"value":-0.325},{"channel":"Ty","sample":186,"value":-0.296},{"channel":"Ty","sample":197,"value":-0.264},{"channel":"Ty","sample":209,"value":-0.281},{"channel":"Ty","sample":219,"value":-0.325},{"channel":"Ty","sample":230,"value":-0.354},{"channel":"Ty","sample":240,"value":-0.339},{"channel":"Ty","sample":252,"value":-0.397},{"channel":"Ty","sample":266,"value":-0.39},{"channel":"Ty","sample":278,"value":-0.408},{"channel":"Ty","sample":290,"value":-0.469},{"channel":"Ty","sample":304,"value":-0.483},{"channel":"Ty","sample":319,"value":-0.498},{"channel":"Ty","sample":331,"value":-0.519},{"channel":"Ty","sample":343,"value":-0.553},{"channel":"Ty","sample":358,"value":-0.541},{"channel":"Ty","sample":370,"value":-0.563},{"channel":"Ty","sample":384,"value":-0.577},{"channel":"Ty","sample":396,"value":-0.599},{"channel":"Ty","sample":405,"value":-0.649},{"channel":"Ty","sample":420,"value":-0.657},{"channel":"Ty","sample":431,"value":-0.664},{"channel":"Ty","sample":443,"value":-0.693},{"channel":"Ty","sample":455,"value":-0.726},{"channel":"Ty","sample":467,"value":-0.743},{"channel":"Ty","sample":479,"value":-0.746},{"channel":"Ty","sample":488,"value":-0.721},{"channel":"Ty","sample":500,"value":-0.683},{"channel":"Ty","sample":508,"value":-0.686},{"channel":"Ty","sample":520,"value":-0.707},{"channel":"Ty","sample":532,"value":-0.678},{"channel":"Ty","sample":544,"value":-0.628},{"channel":"Ty","sample":556,"value":-0.613},{"channel":"Ty","sample":567,"value":-0.57},{"channel":"Ty","sample":579,"value":-0.534},{"channel":"Ty","sample":591,"value":-0.476},{"channel":"Ty","sample":603,"value":-0.426},{"channel":"Ty","sample":611,"value":-0.426},{"channel":"Ty","sample":621,"value":-0.39},{"channel":"Ty","sample":630,"value":-0.411},{"channel":"Ty","sample":638,"value":-0.368},{"channel":"Ty","sample":650,"value":-0.382},{"channel":"Ty","sample":658,"value":-0.346},{"channel":"Ty","sample":668,"value":-0.325},{"channel":"Ty","sample":677,"value":-0.339},{"channel":"Ty","sample":686,"value":-0.31},{"channel":"Ty","sample":694,"value":-0.288},{"channel":"Ty","sample":706,"value":-0.274},{"channel":"Ty","sample":717,"value":-0.238},{"channel":"Ty","sample":727,"value":-0.216},{"channel":"Ty","sample":739,"value":-0.18},{"channel":"Ty","sample":748,"value":-0.173},{"channel":"Ty","sample":757,"value":-0.152},{"channel":"Ty","sample":765,"value":-0.134},{"channel":"Ty","sample":774,"value":-0.12},{"channel":"Ty","sample":786,"value":-0.148},{"channel":"Ty","sample":798,"value":-0.166},{"channel":"Ty","sample":810,"value":-0.137},{"channel":"Ty","sample":819,"value":-0.137},{"channel":"Ty","sample":828,"value":-0.13},{"channel":"Ty","sample":834,"value":-0.058},{"channel":"Ty","sample":845,"value":-0.062},{"channel":"Ty","sample":851,"value":-0.072},{"channel":"Ty","sample":860,"value":-0.065},{"channel":"Ty","sample":869,"value":-0.101},{"channel":"Ty","sample":881,"value":-0.137},{"channel":"Ty","sample":893,"value":-0.144},{"channel":"Ty","sample":904,"value":-0.137},{"channel":"Ty","sample":914,"value":-0.13},{"channel":"Ty","sample":922,"value":-0.18},{"channel":"Ty","sample":931,"value":-0.202},{"channel":"Ty","sample":940,"value":-0.18},{"channel":"Ty","sample":952,"value":-0.195},{"channel":"Ty","sample":966,"value":-0.188},{"channel":"Ty","sample":975,"value":-0.202},{"channel":"Ty","sample":987,"value":-0.192},{"channel":"Ty","sample":996,"value":-0.209},{"channel":"Ty","sample":1008,"value":-0.18},{"channel":"Ty","sample":1020,"value":-0.195},{"channel":"Ty","sample":1034,"value":-0.202},{"channel":"Ty","sample":1044,"value":-0.227},{"channel":"Ty","sample":1052,"value":-0.188},{"channel":"Ty","sample":1064,"value":-0.195},{"channel":"Ty","sample":1076,"value":-0.192},{"channel":"Ty","sample":1088,"value":-0.188},{"channel":"Ty","sample":1103,"value":-0.185},{"channel":"Ty","sample":1117,"value":-0.195},{"channel":"Ty","sample":1129,"value":-0.209},{"channel":"Ty","sample":1141,"value":-0.202},{"channel":"Ty","sample":1152,"value":-0.231},{"channel":"Ty","sample":1167,"value":-0.224},{"channel":"Ty","sample":1176,"value":-0.238},{"channel":"Ty","sample":1188,"value":-0.26},{"channel":"Ty","sample":1200,"value":-0.241},{"channel":"Ty","sample":1209,"value":-0.26},{"channel":"Ty","sample":1221,"value":-0.238},{"channel":"Ty","sample":1230,"value":-0.231},{"channel":"Ty","sample":1238,"value":-0.166},{"channel":"Ty","sample":1247,"value":-0.13},{"channel":"Ty","sample":1257,"value":-0.144},{"channel":"Ty","sample":1265,"value":-0.12},{"channel":"Ty","sample":1274,"value":-0.144},{"channel":"Ty","sample":1285,"value":-0.18},{"channel":"Ty","sample":1294,"value":-0.163},{"channel":"Ty","sample":1306,"value":-0.123},{"channel":"Ty","sample":1316,"value":-0.087},{"channel":"Ty","sample":1324,"value":-0.108},{"channel":"Ty","sample":1336,"value":-0.079},{"channel":"Ty","sample":1348,"value":-0.036},{"channel":"Ty","sample":1357,"value":0.01},{"channel":"Ty","sample":1365,"value":0.0},{"channel":"Ty","sample":1371,"value":-0.029},{"channel":"Ty","sample":1380,"value":-0.014},{"channel":"Ty","sample":1389,"value":0.022},{"channel":"Ty","sample":1398,"value":-0.05},{"channel":"Ty","sample":1407,"value":-0.065},{"channel":"Ty","sample":1416,"value":-0.036},{"channel":"Ty","sample":1424,"value":-0.05},{"channel":"Ty","sample":1434,"value":-0.079},{"channel":"Ty","sample":1443,"value":-0.05},{"channel":"Ty","sample":1454,"value":-0.05},{"channel":"Ty","sample":1462,"value":0.014},{"channel":"Ty","sample":1471,"value":0.054},{"channel":"Ty","sample":1483,"value":0.094},{"channel":"Ty","sample":1493,"value":0.087},{"channel":"Ty","sample":1501,"value":0.036},{"channel":"Ty","sample":1513,"value":0.073},{"channel":"Ty","sample":1525,"value":0.087},{"channel":"Ty","sample":1531,"value":0.029},{"channel":"Ty","sample":1540,"value":0.036},{"channel":"Ty","sample":1549,"value":0.007},{"channel":"Ty","sample":1560,"value":-0.029},{"channel":"Ty","sample":1572,"value":0.0},{"channel":"Ty","sample":1581,"value":0.022},{"channel":"Ty","sample":1593,"value":0.065},{"channel":"Ty","sample":1602,"value":0.036},{"channel":"Ty","sample":1611,"value":-0.029},{"channel":"Ty","sample":1622,"value":0.007},{"channel":"Ty","sample":1634,"value":0.022},{"channel":"Ty","sample":1643,"value":0.051},{"channel":"Ty","sample":1655,"value":0.014},{"channel":"Ty","sample":1663,"value":0.014},{"channel":"Ty","sample":1673,"value":0.073},{"channel":"Ty","sample":1682,"value":0.123},{"channel":"Ty","sample":1690,"value":0.108},{"channel":"Ty","sample":1702,"value":0.13},{"channel":"Ty","sample":1708,"value":0.137},{"channel":"Ty","sample":1720,"value":0.115},{"channel":"Ty","sample":1729,"value":0.094},{"channel":"Ty","sample":1741,"value":0.043},{"channel":"Ty","sample":1753,"value":-0.007},{"channel":"Ty","sample":1761,"value":0.022},{"channel":"Ty","sample":1770,"value":0.058},{"channel":"Ty","sample":1779,"value":0.014},{"channel":"Ty","sample":1791,"value":-0.043},{"channel":"Ty","sample":1800,"value":-0.022},{"channel":"Ty","sample":1812,"value":0.014},{"channel":"Ty","sample":1826,"value":0.094},{"channel":"Ty","sample":1838,"value":0.094},{"channel":"Ty","sample":1850,"value":0.073},{"channel":"Ty","sample":1862,"value":0.087},{"channel":"Ty","sample":1873,"value":0.065},{"channel":"Ty","sample":1885,"value":0.068},{"channel":"Ty","sample":1897,"value":0.029},{"channel":"Ty","sample":1909,"value":-0.022},{"channel":"Ty","sample":1921,"value":-0.007},{"channel":"Ty","sample":1930,"value":0.022},{"channel":"Ty","sample":1942,"value":0.051},{"channel":"Ty","sample":1954,"value":0.065},{"channel":"Ty","sample":1966,"value":0.029},{"channel":"Ty","sample":1978,"value":0.029},{"channel":"Ty","sample":1989,"value":0.0},{"channel":"Ty","sample":2001,"value":0.014},{"channel":"Ty","sample":2013,"value":0.022},{"channel":"Ty","sample":2025,"value":0.022},{"channel":"Ty","sample":2033,"value":-0.007},{"channel":"Ty","sample":2045,"value":0.058},{"channel":"Ty","sample":2057,"value":0.094},{"channel":"Ty","sample":2066,"value":0.159},{"channel":"Ty","sample":2074,"value":0.123},{"channel":"Ty","sample":2084,"value":0.073},{"channel":"Ty","sample":2093,"value":0.094},{"channel":"Ty","sample":2104,"value":0.094},{"channel":"Ty","sample":2116,"value":0.108},{"channel":"Ty","sample":2128,"value":0.036},{"channel":"Ty","sample":2140,"value":0.065},{"channel":"Ty","sample":2151,"value":0.094},{"channel":"Ty","sample":2161,"value":0.202},{"channel":"Ty","sample":2169,"value":0.188},{"channel":"Ty","sample":2178,"value":0.166},{"channel":"Ty","sample":2190,"value":0.195},{"channel":"Ty","sample":2201,"value":0.183},{"channel":"Ty","sample":2213,"value":0.198},{"channel":"Ty","sample":2225,"value":0.181},{"channel":"Ty","sample":2237,"value":0.181},{"channel":"Ty","sample":2248,"value":0.195},{"channel":"Ty","sample":2258,"value":0.217},{"channel":"Ty","sample":2270,"value":0.267},{"channel":"Ty","sample":2282,"value":0.26},{"channel":"Ty","sample":2291,"value":0.289},{"channel":"Ty","sample":2303,"value":0.318},{"channel":"Ty","sample":2313,"value":0.274},{"channel":"Ty","sample":2325,"value":0.31},{"channel":"Ty","sample":2334,"value":0.303},{"channel":"Ty","sample":2346,"value":0.318},{"channel":"Ty","sample":2358,"value":0.354},{"channel":"Ty","sample":2367,"value":0.39},{"channel":"Ty","sample":2376,"value":0.347},{"channel":"Ty","sample":2388,"value":0.325},{"channel":"Ty","sample":2400,"value":0.361},{"channel":"Ty","sample":2412,"value":0.375},{"channel":"Ty","sample":2424,"value":0.365},{"channel":"Ty","sample":2435,"value":0.382},{"channel":"Ty","sample":2447,"value":0.39},{"channel":"Ty","sample":2459,"value":0.397},{"channel":"Ty","sample":2468,"value":0.375},{"channel":"Ty","sample":2476,"value":0.382},{"channel":"Ty","sample":2486,"value":0.411},{"channel":"Ty","sample":2494,"value":0.452},{"channel":"Ty","sample":2500,"value":0.452},
      {"channel":"Tz","sample":0,"value":0.115},{"channel":"Tz","sample":18,"value":0.112},{"channel":"Tz","sample":35,"value":0.108},{"channel":"Tz","sample":53,"value":0.112},{"channel":"Tz","sample":71,"value":0.115},{"channel":"Tz","sample":89,"value":0.113},{"channel":"Tz","sample":106,"value":0.111},{"channel":"Tz","sample":124,"value":0.105},{"channel":"Tz","sample":142,"value":0.111},{"channel":"Tz","sample":160,"value":0.123},{"channel":"Tz","sample":177,"value":0.149},{"channel":"Tz","sample":195,"value":0.18},{"channel":"Tz","sample":213,"value":0.212},{"channel":"Tz","sample":225,"value":0.227},{"channel":"Tz","sample":236,"value":0.231},{"channel":"Tz","sample":248,"value":0.227},{"channel":"Tz","sample":266,"value":0.209},{"channel":"Tz","sample":284,"value":0.183},{"channel":"Tz","sample":301,"value":0.154},{"channel":"Tz","sample":319,"value":0.123},{"channel":"Tz","sample":337,"value":0.087},{"channel":"Tz","sample":351,"value":0.065},{"channel":"Tz","sample":366,"value":0.043},{"channel":"Tz","sample":384,"value":0.022},{"channel":"Tz","sample":402,"value":-0.007},{"channel":"Tz","sample":420,"value":-0.043},{"channel":"Tz","sample":437,"value":-0.079},{"channel":"Tz","sample":455,"value":-0.12},{"channel":"Tz","sample":469,"value":-0.152},{"channel":"Tz","sample":481,"value":-0.169},{"channel":"Tz","sample":493,"value":-0.152},{"channel":"Tz","sample":508,"value":-0.13},{"channel":"Tz","sample":520,"value":-0.108},{"channel":"Tz","sample":532,"value":-0.076},{"channel":"Tz","sample":550,"value":-0.029},{"channel":"Tz","sample":567,"value":0.022},{"channel":"Tz","sample":585,"value":0.079},{"channel":"Tz","sample":603,"value":0.13},{"channel":"Tz","sample":621,"value":0.166},{"channel":"Tz","sample":638,"value":0.195},{"channel":"Tz","sample":656,"value":0.221},{"channel":"Tz","sample":674,"value":0.245},{"channel":"Tz","sample":691,"value":0.264},{"channel":"Tz","sample":709,"value":0.279},{"channel":"Tz","sample":727,"value":0.293},{"channel":"Tz","sample":745,"value":0.303},{"channel":"Tz","sample":762,"value":0.307},{"channel":"Tz","sample":780,"value":0.31},{"channel":"Tz","sample":798,"value":0.313},{"channel":"Tz","sample":819,"value":0.317},{"channel":"Tz","sample":834,"value":0.332},{"channel":"Tz","sample":845,"value":0.317},{"channel":"Tz","sample":857,"value":0.325},{"channel":"Tz","sample":866,"value":0.335},{"channel":"Tz","sample":881,"value":0.317},{"channel":"Tz","sample":895,"value":0.31},{"channel":"Tz","sample":904,"value":0.317},{"channel":"Tz","sample":922,"value":0.303},{"channel":"Tz","sample":940,"value":0.293},{"channel":"Tz","sample":958,"value":0.284},{"channel":"Tz","sample":975,"value":0.279},{"channel":"Tz","sample":999,"value":0.27},{"channel":"Tz","sample":1023,"value":0.264},{"channel":"Tz","sample":1046,"value":0.267},{"channel":"Tz","sample":1070,"value":0.279},{"channel":"Tz","sample":1094,"value":0.284},{"channel":"Tz","sample":1117,"value":0.281},{"channel":"Tz","sample":1141,"value":0.267},{"channel":"Tz","sample":1164,"value":0.245},{"channel":"Tz","sample":1188,"value":0.231},{"channel":"Tz","sample":1212,"value":0.231},{"channel":"Tz","sample":1235,"value":0.25},{"channel":"Tz","sample":1259,"value":0.27},{"channel":"Tz","sample":1283,"value":0.293},{"channel":"Tz","sample":1306,"value":0.317},{"channel":"Tz","sample":1330,"value":0.336},{"channel":"Tz","sample":1353,"value":0.342},{"channel":"Tz","sample":1377,"value":0.346},{"channel":"Tz","sample":1401,"value":0.354},{"channel":"Tz","sample":1419,"value":0.354},{"channel":"Tz","sample":1436,"value":0.342},{"channel":"Tz","sample":1460,"value":0.328},{"channel":"Tz","sample":1483,"value":0.313},{"channel":"Tz","sample":1507,"value":0.307},{"channel":"Tz","sample":1531,"value":0.299},{"channel":"Tz","sample":1554,"value":0.293},{"channel":"Tz","sample":1578,"value":0.289},{"channel":"Tz","sample":1602,"value":0.293},{"channel":"Tz","sample":1625,"value":0.299},{"channel":"Tz","sample":1649,"value":0.299},{"channel":"Tz","sample":1673,"value":0.299},{"channel":"Tz","sample":1696,"value":0.296},{"channel":"Tz","sample":1720,"value":0.293},{"channel":"Tz","sample":1744,"value":0.29},{"channel":"Tz","sample":1779,"value":0.284},{"channel":"Tz","sample":1803,"value":0.279},{"channel":"Tz","sample":1820,"value":0.267},{"channel":"Tz","sample":1844,"value":0.264},{"channel":"Tz","sample":1868,"value":0.264},{"channel":"Tz","sample":1891,"value":0.263},{"channel":"Tz","sample":1915,"value":0.267},{"channel":"Tz","sample":1939,"value":0.27},{"channel":"Tz","sample":1962,"value":0.264},{"channel":"Tz","sample":1986,"value":0.255},{"channel":"Tz","sample":2010,"value":0.253},{"channel":"Tz","sample":2033,"value":0.25},{"channel":"Tz","sample":2057,"value":0.25},{"channel":"Tz","sample":2081,"value":0.253},{"channel":"Tz","sample":2104,"value":0.257},{"channel":"Tz","sample":2128,"value":0.26},{"channel":"Tz","sample":2151,"value":0.26},{"channel":"Tz","sample":2175,"value":0.26},{"channel":"Tz","sample":2199,"value":0.267},{"channel":"Tz","sample":2222,"value":0.274},{"channel":"Tz","sample":2246,"value":0.277},{"channel":"Tz","sample":2270,"value":0.281},{"channel":"Tz","sample":2294,"value":0.289},{"channel":"Tz","sample":2317,"value":0.296},{"channel":"Tz","sample":2341,"value":0.299},{"channel":"Tz","sample":2364,"value":0.303},{"channel":"Tz","sample":2388,"value":0.313},{"channel":"Tz","sample":2412,"value":0.325},{"channel":"Tz","sample":2435,"value":0.339},{"channel":"Tz","sample":2459,"value":0.351},{"channel":"Tz","sample":2482,"value":0.365},{"channel":"Tz","sample":2500,"value":0.375}
    ]
  },
  "vconcat": [
    {
      "title": {"text": "Force Data", "offset": 5},
      "width": 775,
      "height": 303,
      "data": {"name": "force"},
      "mark": {"type": "line", "strokeWidth": 2, "interpolate": "monotone"},
      "encoding": {
        "x": {
          "field": "sample", "type": "quantitative",
          "scale": {"domain": [-125, 2625], "nice": false, "zero": false},
          "axis": {"values": [0, 500, 1000, 1500, 2000, 2500], "format": "d", "title": "Sample", "titleY": 39, "titleBaseline": "alphabetic"}
        },
        "y": {
          "field": "value", "type": "quantitative",
          "scale": {"domain": [-5.13, 6.84], "nice": false, "zero": false},
          "axis": {"values": [-4, -2, 0, 2, 4, 6], "title": "Force", "titleX": -42.5, "titleBaseline": "middle"}
        },
        "color": {
          "field": "channel", "type": "nominal",
          "scale": {"domain": ["Fx", "Fy", "Fz"], "range": ["#1f77b4", "#ff7f0e", "#2ca02c"]},
          "legend": {"orient": "top-right", "offset": 7, "title": null}
        }
      }
    },
    {
      "title": {"text": "Torque Data", "offset": 7.5},
      "width": 775,
      "height": 303,
      "data": {"name": "torque"},
      "mark": {"type": "line", "strokeWidth": 2, "interpolate": "monotone"},
      "encoding": {
        "x": {
          "field": "sample", "type": "quantitative",
          "scale": {"domain": [-125, 2625], "nice": false, "zero": false},
          "axis": {"values": [0, 500, 1000, 1500, 2000, 2500], "format": "d", "title": "Sample", "titleY": 39, "titleBaseline": "alphabetic"}
        },
        "y": {
          "field": "value", "type": "quantitative",
          "scale": {"domain": [-0.802, 0.508], "nice": false, "zero": false},
          "axis": {"values": [-0.8, -0.6, -0.4, -0.2, 0, 0.2, 0.4], "format": ".1f", "title": "Torque", "titleX": -56, "titleBaseline": "middle"}
        },
        "color": {
          "field": "channel", "type": "nominal",
          "scale": {"domain": ["Tx", "Ty", "Tz"], "range": ["#1f77b4", "#ff7f0e", "#2ca02c"]},
          "legend": {"orient": "top-left", "offset": 7, "title": null}
        }
      }
    }
  ],
  "resolve": {"scale": {"color": "independent", "x": "independent", "y": "independent"}, "legend": {"color": "independent"}}
}
